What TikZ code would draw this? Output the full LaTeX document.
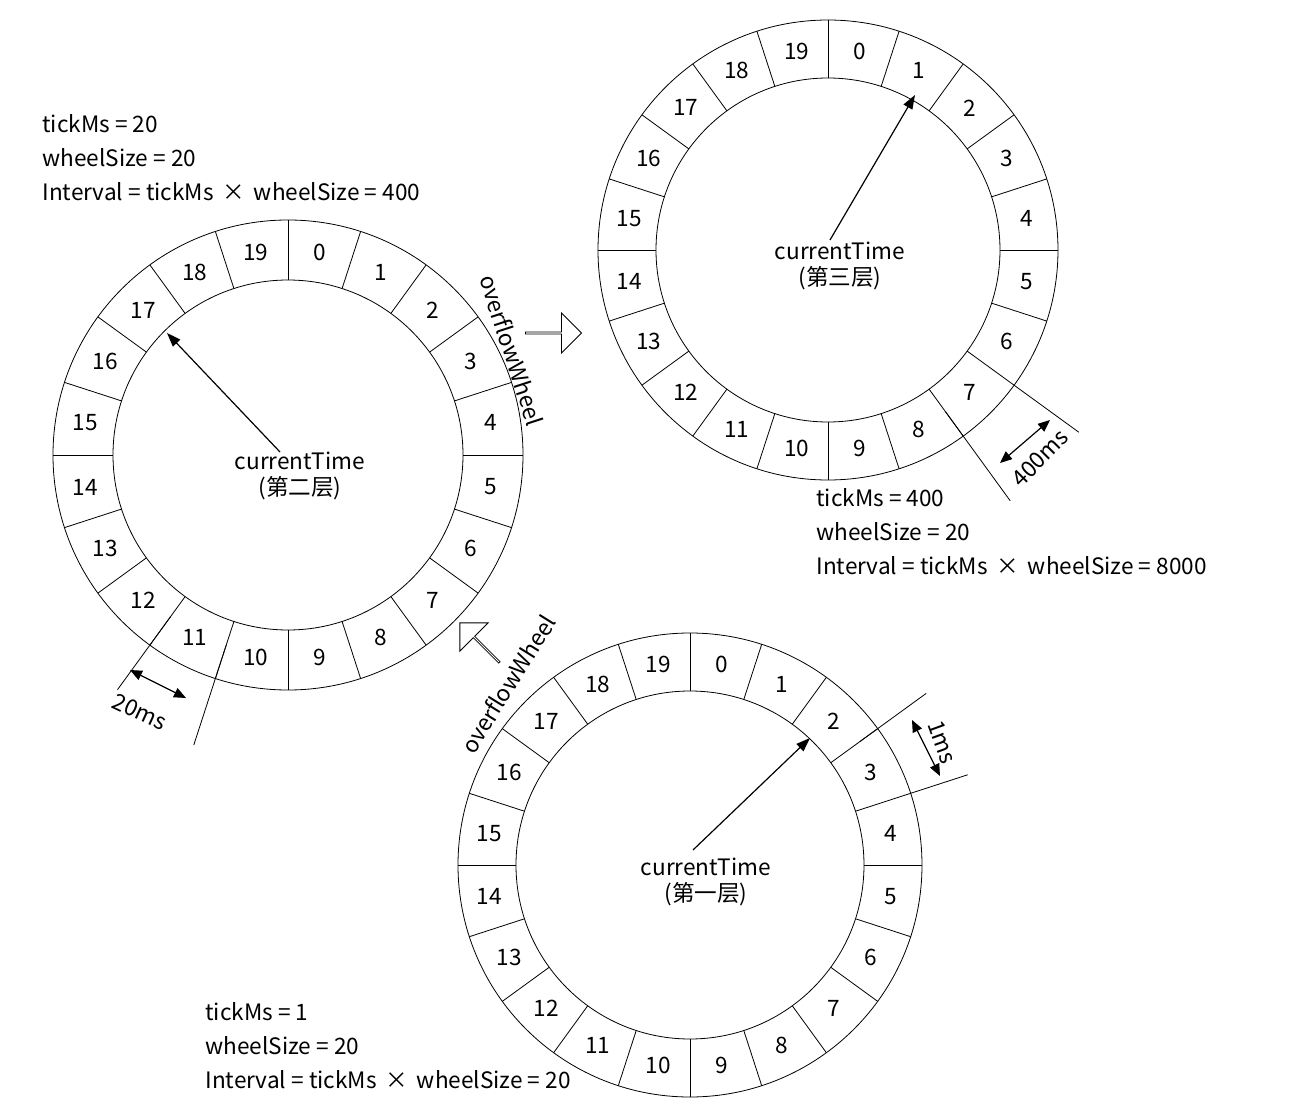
\documentclass[tikz,border=0pt]{standalone}
\usepackage{fontspec}
\setmainfont{Noto Sans CJK SC}
\usetikzlibrary{shapes.arrows,arrows.meta}
\begin{document}
\begin{tikzpicture}[x=0.5pt,y=-0.5pt,
  lbl/.style={font=\fontsize{11.3}{13}\selectfont},
  info/.style={lbl,anchor=west,align=left,inner sep=0},
  ptr/.style={-{Triangle[length=7pt,width=5pt]},semithick},
  dim/.style={{Triangle[length=6pt,width=5pt]}-{Triangle[length=6pt,width=5pt]},semithick},
  hollow/.style={single arrow,draw,fill=white,minimum height=28pt,minimum width=20pt,inner sep=0pt,single arrow head extend=4pt}]
\useasboundingbox (0,0) rectangle (1298,1108);
\newcommand\mywheel[4]{%
  \draw (#1,#2) circle[radius=#3*0.5pt];
  \draw (#1,#2) circle[radius=#4*0.5pt];
  \foreach \i in {0,...,19}{
    \pgfmathsetmacro\a{90-18*\i}
    \pgfmathsetmacro\m{81-18*\i}
    \draw ({#1+#4*cos(\a)},{#2-#4*sin(\a)}) -- ({#1+#3*cos(\a)},{#2-#3*sin(\a)});
    \node[lbl] at ({#1+(#3+#4)/2*cos(\m)},{#2-(#3+#4)/2*sin(\m)}) {\i};
  }}
\newcommand\myext[5]{% cx cy r0 r1 angle
  \draw ({#1+#3*cos(#5)},{#2-#3*sin(#5)}) -- ({#1+#4*cos(#5)},{#2-#4*sin(#5)});}
% wheel 2
\mywheel{288}{455}{235}{175}
\coordinate (c2) at (288,455);
\node[lbl,align=center] (t2) at (300,476) {currentTime\\(第二层)};
\draw[ptr] (280,452) -- (167,333);
\myext{288}{455}{200}{305}{-108}
\myext{288}{455}{200}{290}{-126}
\draw[dim] (130,670) -- (186,698);
\node[lbl,rotate=-25] (m2) at (140,712) {20ms};
\node[info] (i2) at (42,158) {tickMs = 20\\[4pt]wheelSize = 20\\[4pt]Interval = tickMs \,×\, wheelSize = 400};
% wheel 3
\mywheel{828}{250}{230}{172}
\coordinate (c3) at (828,250);
\node[lbl,align=center] (t3) at (840,266) {currentTime\\(第三层)};
\draw[ptr] (830,240) -- (915,95);
\myext{828}{250}{230}{310}{-36}
\myext{828}{250}{200}{310}{-54}
\draw[dim] (1000,463) -- (1050,420);
\node[lbl,rotate=45] (m3) at (1040,458) {400ms};
\node[info] (i3) at (816,532) {tickMs = 400\\[4pt]wheelSize = 20\\[4pt]Interval = tickMs \,×\, wheelSize = 8000};
% wheel 1
\mywheel{690}{865}{232}{174}
\coordinate (c1) at (690,865);
\node[lbl,align=center] (t1) at (706,882) {currentTime\\(第一层)};
\draw[ptr] (693,850) -- (810,738);
\myext{690}{865}{210}{292}{36}
\myext{690}{865}{232}{292}{18}
\draw[dim] (912,720) -- (940,776);
\node[lbl,rotate=-70] (m1) at (942,742) {1ms};
\node[info] (i1) at (205,1046) {tickMs = 1\\[4pt]wheelSize = 20\\[4pt]Interval = tickMs \,×\, wheelSize = 20};
% overflow arrows
\node[hollow] (a23) at (553,333) {};
\node[lbl,rotate=-72] (o23) at (512,350) {overflowWheel};
\node[hollow,rotate=135] (a12) at (480,643) {};
\node[lbl,rotate=58] (o12) at (508,684) {overflowWheel};
\end{tikzpicture}
\end{document}
